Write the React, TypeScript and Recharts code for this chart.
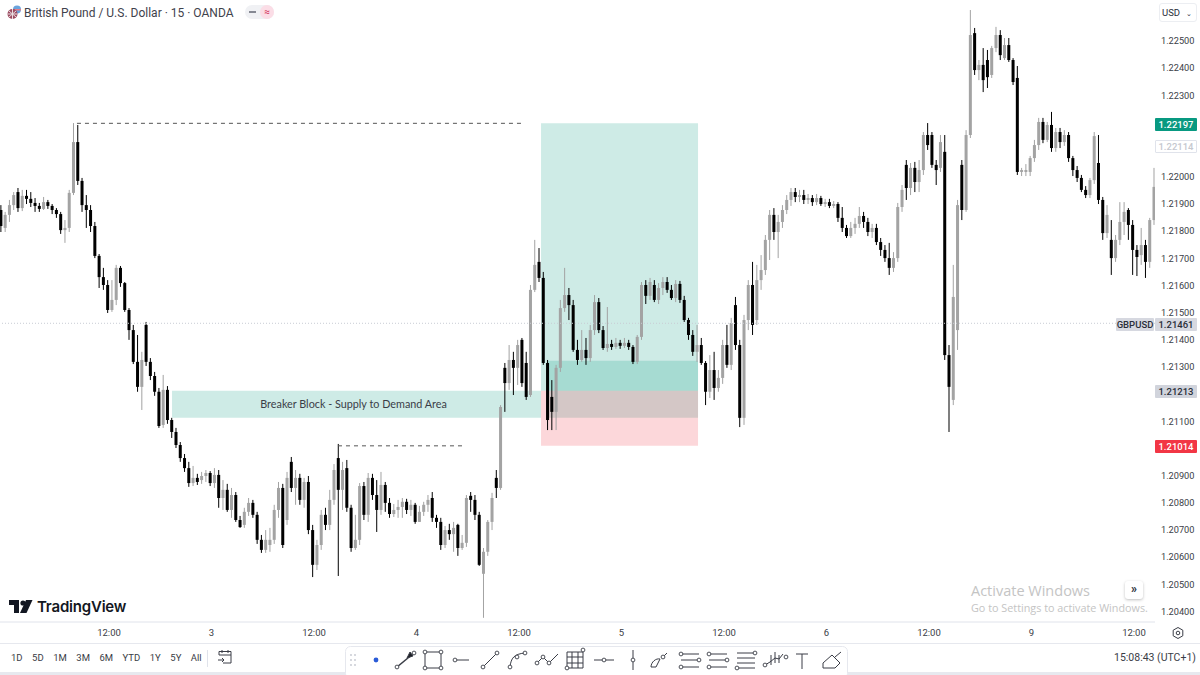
import { Bar, ComposedChart, ReferenceArea, ReferenceLine, XAxis, YAxis } from "recharts";

// every bar here spans two 15 minute candles of the original chart
const opens = [
  1.21878, 1.21812, 1.2186, 1.21896, 1.21944, 1.21885, 1.2193, 1.21919, 1.21904, 1.21893,
  1.21882, 1.21907, 1.21893, 1.21878, 1.21863, 1.21804, 1.21812, 1.21941, 1.22128, 1.21985,
  1.21896, 1.21878, 1.21819, 1.21709, 1.21631, 1.21602, 1.2151, 1.21547, 1.21665, 1.21609,
  1.2151, 1.21436, 1.21319, 1.21227, 1.21455, 1.21319, 1.21267, 1.21209, 1.21087, 1.21216,
  1.21105, 1.21061, 1.21013, 1.20965, 1.20928, 1.20873, 1.20892, 1.20884, 1.20899, 1.2091,
  1.20873, 1.20903, 1.20818, 1.20848, 1.20774, 1.20829, 1.20737, 1.20719, 1.20767, 1.208,
  1.20756, 1.20664, 1.20627, 1.20645, 1.20664, 1.20774, 1.20855, 1.20737, 1.20951, 1.20855,
  1.20892, 1.20811, 1.20877, 1.207, 1.20572, 1.20645, 1.20756, 1.20719, 1.20811, 1.20965,
  1.20848, 1.20928, 1.20782, 1.20634, 1.20664, 1.20862, 1.20756, 1.20892, 1.20829, 1.20774,
  1.20866, 1.208, 1.20759, 1.20774, 1.20785, 1.20804, 1.20774, 1.20793, 1.2073, 1.20767,
  1.20793, 1.20818, 1.20745, 1.2073, 1.20645, 1.207, 1.20685, 1.20719, 1.20634, 1.20653,
  1.20826, 1.20811, 1.20756, 1.20539, 1.2062, 1.2073, 1.20892, 1.20855, 1.21297, 1.21241,
  1.21326, 1.21297, 1.214, 1.21315, 1.21197, 1.21584, 1.21687, 1.21628, 1.21315, 1.2119,
  1.21135, 1.21297, 1.21517, 1.21565, 1.21528, 1.21363, 1.21326, 1.21363, 1.21333, 1.21436,
  1.21539, 1.21436, 1.2137, 1.21385, 1.21374, 1.21389, 1.21378, 1.21389, 1.21374, 1.21319,
  1.21411, 1.21602, 1.21562, 1.21602, 1.21547, 1.21591, 1.21613, 1.21584, 1.21554, 1.21606,
  1.21547, 1.21473, 1.21418, 1.21356, 1.21381, 1.21315, 1.21209, 1.21289, 1.21223, 1.2126,
  1.21381, 1.21308, 1.21528, 1.21381, 1.21113, 1.21473, 1.21602, 1.21473, 1.2162, 1.21657,
  1.21768, 1.2186, 1.21797, 1.21834, 1.21878, 1.21915, 1.21944, 1.21926, 1.21933, 1.21915,
  1.21922, 1.21907, 1.21922, 1.219, 1.21907, 1.21893, 1.219, 1.21849, 1.21812, 1.21782,
  1.21812, 1.21827, 1.21856, 1.21834, 1.21797, 1.21812, 1.2176, 1.21731, 1.21701, 1.21665,
  1.21701, 1.21889, 1.22044, 1.21959, 1.22033, 1.21981, 1.22025, 1.22154, 1.22154, 1.22044,
  1.22033, 1.22092, 1.21344, 1.21179, 1.21436, 1.22044, 1.21878, 1.22154, 1.22529, 1.22393,
  1.22412, 1.2243, 1.22375, 1.22474, 1.22522, 1.22437, 1.22485, 1.2243, 1.22364, 1.22018,
  1.22018, 1.22018, 1.22069, 1.22117, 1.22202, 1.22136, 1.22191, 1.22106, 1.22165, 1.22128,
  1.22154, 1.22069, 1.22025, 1.21996, 1.21952, 1.21933, 1.21988, 1.22051, 1.21915, 1.21793,
  1.21768, 1.21701, 1.21768, 1.21834, 1.21878, 1.21823, 1.21731, 1.21712, 1.21749, 1.21687,
  1.21841,
];

const closes = [
  1.21819, 1.2186, 1.21896, 1.21933, 1.21885, 1.2193, 1.21919, 1.21904, 1.21893, 1.21882,
  1.21907, 1.21893, 1.21878, 1.21863, 1.21804, 1.21812, 1.21941, 1.22128, 1.21985, 1.21896,
  1.21878, 1.21819, 1.21709, 1.21631, 1.21602, 1.2151, 1.21547, 1.21665, 1.21609, 1.2151,
  1.21436, 1.21319, 1.21227, 1.21326, 1.21319, 1.21267, 1.21209, 1.21083, 1.21216, 1.21105,
  1.21061, 1.21013, 1.20965, 1.20928, 1.20873, 1.20892, 1.20877, 1.20899, 1.2091, 1.20873,
  1.20903, 1.20818, 1.20848, 1.20774, 1.20829, 1.20737, 1.20711, 1.20767, 1.208, 1.20756,
  1.20664, 1.20627, 1.20664, 1.20664, 1.20774, 1.20855, 1.20645, 1.20892, 1.20855, 1.20892,
  1.20811, 1.20877, 1.207, 1.20572, 1.20645, 1.20756, 1.20719, 1.20811, 1.20921, 1.20848,
  1.20921, 1.20782, 1.20634, 1.20664, 1.20862, 1.20756, 1.20892, 1.20829, 1.20774, 1.20866,
  1.208, 1.20759, 1.20774, 1.20785, 1.20804, 1.20774, 1.20793, 1.2073, 1.20767, 1.20793,
  1.20811, 1.20745, 1.2073, 1.20645, 1.207, 1.20685, 1.20708, 1.20634, 1.20653, 1.20818,
  1.20811, 1.20756, 1.20572, 1.2062, 1.2073, 1.20818, 1.20855, 1.21153, 1.21241, 1.21326,
  1.21297, 1.21381, 1.21241, 1.2119, 1.21584, 1.21676, 1.21628, 1.21315, 1.21105, 1.21135,
  1.21297, 1.21517, 1.21565, 1.21528, 1.21363, 1.21326, 1.21363, 1.21333, 1.21436, 1.21539,
  1.21436, 1.2137, 1.21385, 1.21374, 1.21389, 1.21378, 1.21389, 1.21374, 1.21319, 1.21411,
  1.21602, 1.21562, 1.21613, 1.21547, 1.21591, 1.21613, 1.21584, 1.21554, 1.21606, 1.21547,
  1.21473, 1.21418, 1.21356, 1.21381, 1.21315, 1.21209, 1.21289, 1.21223, 1.2126, 1.21381,
  1.21308, 1.21462, 1.21381, 1.21113, 1.21473, 1.21602, 1.21455, 1.2162, 1.21657, 1.21768,
  1.2186, 1.21797, 1.21834, 1.21878, 1.21915, 1.21944, 1.21926, 1.21933, 1.21915, 1.21922,
  1.21907, 1.21922, 1.219, 1.21907, 1.21893, 1.219, 1.21849, 1.21812, 1.21782, 1.21812,
  1.21827, 1.21856, 1.21834, 1.21797, 1.21812, 1.2176, 1.21731, 1.21701, 1.21665, 1.21701,
  1.21889, 1.21952, 1.21959, 1.22033, 1.21981, 1.22025, 1.22154, 1.22117, 1.22044, 1.22025,
  1.22128, 1.21344, 1.21227, 1.21558, 1.21896, 1.21878, 1.22154, 1.22522, 1.22393, 1.22412,
  1.22356, 1.22367, 1.22474, 1.22522, 1.22448, 1.22485, 1.2243, 1.22349, 1.22018, 1.22025,
  1.22025, 1.22069, 1.22117, 1.22202, 1.22136, 1.22191, 1.22106, 1.22165, 1.22128, 1.22154,
  1.22069, 1.22025, 1.21996, 1.21952, 1.21933, 1.21988, 1.2215, 1.21915, 1.21793, 1.2186,
  1.21701, 1.21768, 1.21834, 1.21871, 1.21823, 1.21731, 1.21705, 1.21749, 1.21687, 1.21841,
  1.21963,
];

const highs = [
  1.21896, 1.21871, 1.21915, 1.21944, 1.21959, 1.21952, 1.21952, 1.21944, 1.21922, 1.21904,
  1.21926, 1.21915, 1.219, 1.21885, 1.21871, 1.21841, 1.21952, 1.22198, 1.22191, 1.21996,
  1.21933, 1.21896, 1.21834, 1.21716, 1.21665, 1.2162, 1.2162, 1.21676, 1.21672, 1.21613,
  1.21517, 1.21455, 1.21418, 1.21356, 1.21466, 1.21333, 1.21282, 1.21223, 1.21271, 1.2123,
  1.21113, 1.21076, 1.21024, 1.2098, 1.20951, 1.20936, 1.20907, 1.20914, 1.20921, 1.20917,
  1.20928, 1.20921, 1.20884, 1.2087, 1.20855, 1.2084, 1.20752, 1.20782, 1.20818, 1.20811,
  1.20767, 1.20682, 1.207, 1.20708, 1.20793, 1.20877, 1.2087, 1.20914, 1.20969, 1.20921,
  1.20907, 1.20892, 1.20899, 1.20719, 1.20664, 1.20774, 1.20782, 1.20848, 1.20943, 1.21017,
  1.20951, 1.20958, 1.20793, 1.20756, 1.20873, 1.20877, 1.2091, 1.20907, 1.20884, 1.20914,
  1.20877, 1.20818, 1.20796, 1.20811, 1.20818, 1.20815, 1.20811, 1.208, 1.20789, 1.20804,
  1.20829, 1.2084, 1.20756, 1.20745, 1.20715, 1.20723, 1.2073, 1.20723, 1.20682, 1.20829,
  1.2084, 1.20829, 1.20767, 1.20634, 1.20737, 1.20837, 1.20921, 1.2116, 1.21315, 1.21381,
  1.21356, 1.214, 1.21407, 1.21356, 1.21602, 1.21768, 1.21738, 1.2165, 1.21326, 1.21252,
  1.21308, 1.21547, 1.21665, 1.21591, 1.21547, 1.214, 1.21436, 1.21407, 1.21455, 1.21565,
  1.21554, 1.21451, 1.21521, 1.214, 1.21407, 1.214, 1.21407, 1.214, 1.21381, 1.21418,
  1.21613, 1.2162, 1.21628, 1.2162, 1.21609, 1.21631, 1.21631, 1.21602, 1.2162, 1.21617,
  1.21562, 1.21481, 1.21436, 1.21455, 1.21407, 1.21322, 1.21344, 1.21356, 1.21289, 1.214,
  1.21455, 1.21481, 1.21558, 1.214, 1.21492, 1.2162, 1.21687, 1.21676, 1.21712, 1.21786,
  1.21878, 1.21885, 1.2186, 1.21896, 1.21933, 1.21959, 1.21959, 1.21952, 1.21952, 1.21937,
  1.21933, 1.21937, 1.2193, 1.21919, 1.21919, 1.21911, 1.21907, 1.21889, 1.21823, 1.21834,
  1.21849, 1.21889, 1.21871, 1.21849, 1.21827, 1.21827, 1.21775, 1.21749, 1.21757, 1.21723,
  1.21904, 1.2197, 1.22062, 1.22051, 1.22055, 1.22062, 1.22165, 1.22198, 1.22165, 1.22062,
  1.22154, 1.22154, 1.21381, 1.21676, 1.21915, 1.22062, 1.22172, 1.22614, 1.22548, 1.2243,
  1.22474, 1.22467, 1.22482, 1.22552, 1.2254, 1.22511, 1.22511, 1.22437, 1.22408, 1.22033,
  1.22047, 1.22077, 1.22136, 1.22217, 1.22217, 1.22202, 1.22239, 1.2218, 1.2218, 1.22172,
  1.22165, 1.22077, 1.2204, 1.22007, 1.21966, 1.21996, 1.22165, 1.22154, 1.21926, 1.21896,
  1.21841, 1.21786, 1.21907, 1.21907, 1.21885, 1.21841, 1.21749, 1.21812, 1.21768, 1.21849,
  1.22033,
];

const lows = [
  1.21797, 1.21797, 1.21834, 1.21878, 1.21871, 1.21874, 1.219, 1.21889, 1.21871, 1.21871,
  1.21878, 1.21882, 1.21863, 1.21849, 1.2179, 1.21757, 1.21797, 1.21933, 1.2197, 1.21871,
  1.21812, 1.21797, 1.21701, 1.21591, 1.21584, 1.21499, 1.21503, 1.21528, 1.21595, 1.21503,
  1.214, 1.21311, 1.21209, 1.21142, 1.21304, 1.21252, 1.21194, 1.21076, 1.21076, 1.21091,
  1.21039, 1.21002, 1.20951, 1.20914, 1.20859, 1.20862, 1.20866, 1.2087, 1.20877, 1.20862,
  1.20855, 1.20782, 1.20774, 1.20767, 1.20745, 1.2073, 1.20708, 1.20708, 1.20752, 1.20745,
  1.20649, 1.20616, 1.20616, 1.2062, 1.20649, 1.20745, 1.20634, 1.20719, 1.2084, 1.20793,
  1.20793, 1.20782, 1.20685, 1.20527, 1.20553, 1.20627, 1.207, 1.207, 1.20793, 1.20531,
  1.20774, 1.20767, 1.2062, 1.20627, 1.20645, 1.20737, 1.2073, 1.20811, 1.20693, 1.20756,
  1.20767, 1.20745, 1.20748, 1.20745, 1.20745, 1.20759, 1.20752, 1.20723, 1.2073, 1.20752,
  1.20767, 1.2073, 1.20708, 1.20627, 1.20634, 1.20664, 1.2062, 1.20605, 1.20627, 1.20638,
  1.20767, 1.20737, 1.20568, 1.20377, 1.20605, 1.207, 1.20818, 1.20848, 1.21135, 1.21216,
  1.21197, 1.21234, 1.21227, 1.21179, 1.2119, 1.21576, 1.21613, 1.21308, 1.21068, 1.21068,
  1.21068, 1.21282, 1.21503, 1.21473, 1.21356, 1.21308, 1.21319, 1.21308, 1.21319, 1.21418,
  1.21425, 1.21363, 1.21356, 1.21363, 1.21367, 1.21367, 1.2137, 1.21363, 1.21311, 1.21311,
  1.214, 1.21532, 1.21547, 1.21539, 1.21532, 1.21565, 1.21573, 1.21547, 1.21539, 1.21536,
  1.21466, 1.214, 1.21341, 1.21319, 1.21308, 1.2116, 1.21186, 1.21179, 1.21209, 1.21238,
  1.21297, 1.21289, 1.21363, 1.21079, 1.21087, 1.21436, 1.21418, 1.21455, 1.21584, 1.21639,
  1.21694, 1.21768, 1.21701, 1.21812, 1.21863, 1.21893, 1.21907, 1.21907, 1.219, 1.219,
  1.21893, 1.21896, 1.21893, 1.21889, 1.21885, 1.21885, 1.21834, 1.21797, 1.21775, 1.21775,
  1.2179, 1.21812, 1.21812, 1.21782, 1.21775, 1.21749, 1.21709, 1.21687, 1.21639, 1.2165,
  1.21687, 1.21871, 1.21915, 1.21933, 1.21944, 1.21944, 1.22007, 1.22099, 1.22033, 1.2197,
  1.22018, 1.21326, 1.21061, 1.2116, 1.21363, 1.21841, 1.21871, 1.22143, 1.22375, 1.22356,
  1.22312, 1.22327, 1.22364, 1.22459, 1.2243, 1.2243, 1.22423, 1.22338, 1.22007, 1.22003,
  1.22003, 1.22003, 1.22055, 1.22099, 1.22124, 1.22128, 1.22092, 1.22092, 1.22106, 1.22114,
  1.22055, 1.22003, 1.21981, 1.21944, 1.21922, 1.21922, 1.21974, 1.219, 1.21768, 1.21775,
  1.21639, 1.21687, 1.21749, 1.21786, 1.21768, 1.21639, 1.21635, 1.21676, 1.21628, 1.21665,
  1.21823,
];

// 1.21, 1.212, 1.221 and 1.222 sit behind the coloured price tags
const priceTicks = [
  1.204, 1.205, 1.206, 1.207, 1.208, 1.209, 1.211, 1.213, 1.214,
  1.215, 1.216, 1.217, 1.218, 1.219, 1.22, 1.223, 1.224, 1.225,
];
const timeTicks = [12, 24, 36, 48, 60, 72, 84, 96, 108, 120, 132];
const timeLabels = ["12:00", "3", "12:00", "4", "12:00", "5", "12:00", "6", "12:00", "9", "12:00"];
const rangeButtons = ["1D", "5D", "1M", "3M", "6M", "YTD", "1Y", "5Y", "All"];

const LAST_PRICE = 1.21461;
const TARGET = 1.22197;
const ENTRY = 1.21213;
const STOP = 1.2101;
const BLOCK_LOW = 1.21113;
const RETEST_HIGH = 1.21323;

const FONT = "Roboto, sans-serif";
const bars = closes.map((close, i) => ({
  hour: i * 0.5 - 0.7,
  open: opens[i],
  close,
  high: highs[i],
  low: lows[i],
  range: [lows[i], highs[i]],
}));

function Candle(props: any) {
  const { x, y, width, height, payload } = props;
  const up = payload.close >= payload.open;
  const color = up ? "#a3a3a3" : "#000000";
  const perUnit = height / (payload.high - payload.low);
  const top = y + (payload.high - Math.max(payload.open, payload.close)) * perUnit;
  const bodyHeight = Math.max(Math.abs(payload.open - payload.close) * perUnit, 1);
  return (
    <g>
      <rect x={x + width / 2 - 0.5} y={y} width={1} height={height} fill={color} />
      <rect x={x} y={top} width={width} height={bodyHeight} fill={color} />
    </g>
  );
}

function PriceTag({ top, left = 1155, width = 42, bg, color, border, children }: any) {
  return (
    <div
      style={{
        position: "absolute",
        top,
        left,
        width,
        height: 13,
        background: bg,
        color,
        border: border ? `1px solid ${border}` : undefined,
        boxSizing: "border-box",
        fontSize: 9.5,
        fontWeight: 500,
        lineHeight: border ? "11px" : "13px",
        textAlign: "center",
        borderRadius: 1,
      }}
    >
      {children}
    </div>
  );
}

function Flag() {
  return (
    <svg style={{ position: "absolute", left: 6, top: 4 }} width={16} height={16}>
      <circle cx={11} cy={5.5} r={4} fill="#6aa3dc" />
      <rect x={8} y={5} width={7} height={1.5} fill="#e57a86" />
      <circle cx={6.5} cy={10} r={5} fill="#9c4a60" />
      <path d="M2 10h9M6.5 5v10M3 7l7 6M10 7l-7 6" stroke="#e8dde0" strokeWidth={1} />
    </svg>
  );
}

function Logo() {
  return (
    <svg style={{ position: "absolute", left: 9, top: 600 }} width={24} height={13}>
      <path d="M0 0h10v13H5V5H0z" fill="#131722" />
      <circle cx={14} cy={3} r={2.6} fill="#131722" />
      <path d="M17 0h6.5L17.5 13H11z" fill="#131722" />
    </svg>
  );
}

const iconLine = { stroke: "#3a3d46", strokeWidth: 1, fill: "none" };
const Dot = ({ x, y }: { x: number; y: number }) => (
  <circle cx={x} cy={y} r={1.9} fill="#ffffff" stroke="#3a3d46" strokeWidth={0.9} />
);

// drawing tools palette along the bottom
function ToolBar() {
  return (
    <svg style={{ position: "absolute", left: 345, top: 646 }} width={503} height={29}>
      <rect x={0.5} y={0.5} width={502} height={32} rx={5} fill="#ffffff" stroke="#e6e8ee" />
      {[6, 10].map((x) => [9, 14, 19].map((y) => <circle key={`${x}${y}`} cx={x} cy={y} r={0.9} fill="#c4c7cf" />))}
      <circle cx={31} cy={14} r={2.4} fill="#2a5bd7" />
      <g {...iconLine}>
        <path d="M52 21L69 7" strokeWidth={1.6} />
        <path d="M65 6l3 4-6 2z" fill="#1c1f26" />
        <rect x={80} y={6} width={16} height={16} />
        <path d="M110 14h14M138 21l14-14M165 21c1-9 4-13 15-14M192 17l6-6 6 6 9-9M222 6h16v16h-16zM227 6v16M233 6v16M222 11h16M222 17h16M249 14h20M288 4v20" />
        <path d="M306 21c0-5 5-9 9-8l-4 8zM318 11l4-4M336 8h18M336 14h18M336 21h18M364 8h18M364 14h18M364 21h18M392 7h18M392 12h18M392 17h18M392 22h18M420 19l5-3 5-4 4 1 4-5" />
        <path d="M426 9v10M430 6v11M434 9v8M451 8h12M457 8v15M478 22h12l5-5-8-8-9 8zM490 11l6-5" />
      </g>
      {[
        [52, 21], [69, 7], [80, 6], [96, 6], [80, 22], [96, 22], [110, 14], [138, 21], [152, 7],
        [165, 21], [172, 11], [180, 7], [192, 17], [198, 11], [204, 17], [222, 22], [238, 4], [259, 14], [288, 14],
        [318, 11], [336, 8], [354, 14], [336, 21], [364, 8], [382, 14], [364, 21], [392, 22], [410, 7], [420, 19], [441, 11],
      ].map(([x, y]) => <Dot key={`${x}-${y}`} x={x} y={y} />)}
    </svg>
  );
}

export default function App() {
  return (
    <div style={{ position: "absolute", left: 0, top: 0, width: 1200, height: 675, background: "#fff", overflow: "hidden", fontFamily: FONT, color: "#2a2e39" }}>
      <ComposedChart width={1200} height={645} data={bars} margin={{ top: 0, right: 0, bottom: 0, left: 0 }}>
        <XAxis
          dataKey="hour"
          type="number"
          domain={[-0.761, 134.46]}
          allowDataOverflow
          ticks={timeTicks}
          interval={0}
          height={23}
          tickLine={false}
          axisLine={{ stroke: "#e0e3eb" }}
          tickMargin={1}
          tick={{ fontSize: 9.5, fill: "#3a3d46", fontFamily: FONT }}
          tickFormatter={(_: number, i: number) => timeLabels[i]}
        />
        <YAxis
          orientation="right"
          width={45}
          type="number"
          domain={[1.203616, 1.226509]}
          allowDataOverflow
          ticks={priceTicks}
          interval={0}
          tickSize={0}
          tickMargin={6}
          axisLine={false}
          tick={{ fontSize: 9.2, fill: "#3a3d46", fontFamily: FONT }}
          tickFormatter={(v: number) => v.toFixed(5)}
        />
        <ReferenceArea
          x1={19.38}
          x2={62.58}
          y1={BLOCK_LOW}
          y2={ENTRY}
          fill="#089981"
          fillOpacity={0.2}
          stroke="none"
          label={{ value: "Breaker Block - Supply to Demand Area", position: "center", fontSize: 10.8, fill: "#3a3d46", fontFamily: "Lato, sans-serif", dx: -3 }}
        />
        <ReferenceArea x1={62.58} x2={80.96} y1={ENTRY} y2={TARGET} fill="#089981" fillOpacity={0.2} stroke="none" />
        <ReferenceArea x1={63.28} x2={80.96} y1={BLOCK_LOW} y2={RETEST_HIGH} fill="#089981" fillOpacity={0.2} stroke="none" />
        <ReferenceArea x1={62.58} x2={80.96} y1={STOP} y2={ENTRY} fill="#f23645" fillOpacity={0.2} stroke="none" />
        <ReferenceLine y={LAST_PRICE} stroke="#c9ccd4" strokeDasharray="1 2" />
        <ReferenceLine segment={[{ x: 8.25, y: TARGET }, { x: 60.23, y: TARGET }]} stroke="#555" strokeDasharray="4 4" />
        <ReferenceLine segment={[{ x: 38.81, y: STOP }, { x: 53.68, y: STOP }]} stroke="#555" strokeDasharray="4 4" />
        <Bar dataKey="range" barSize={3} shape={<Candle />} isAnimationActive={false} />
      </ComposedChart>

      <Flag />
      <div style={{ position: "absolute", left: 24, top: 6, fontSize: 12, color: "#3f424c", whiteSpace: "nowrap" }}>
        British Pound / U.S. Dollar · 15 · OANDA
      </div>
      <div style={{ position: "absolute", left: 245, top: 5, width: 29, height: 14, borderRadius: 7, background: "#f0f1f4" }}>
        <div style={{ position: "absolute", left: 15, top: 0, width: 14, height: 14, borderRadius: 7, background: "#fbdde6", color: "#d0264f", fontSize: 10, lineHeight: "13px", textAlign: "center" }}>≈</div>
        <div style={{ position: "absolute", left: 4, top: 6, width: 7, height: 2, background: "#868993" }} />
      </div>

      <div style={{ position: "absolute", left: 1159, top: 3, width: 38, height: 19, border: "1px solid #eceef2", borderRadius: 3, boxSizing: "border-box", fontSize: 9.5, lineHeight: "17px", paddingLeft: 2 }}>
        USD <span style={{ fontSize: 7, marginLeft: 4 }}>⌄</span>
      </div>

      <PriceTag top={118} bg="#089981" color="#fff">1.22197</PriceTag>
      <PriceTag top={140} bg="#fff" color="#c5c8cf" border="#e0e3eb">1.22114</PriceTag>
      <PriceTag top={318} left={1116} width={38} bg="#d6d8e0" color="#2a2e39">GBPUSD</PriceTag>
      <PriceTag top={318} bg="#d6d8e0" color="#2a2e39">1.21461</PriceTag>
      <PriceTag top={385} bg="#d1d4dc" color="#2a2e39">1.21213</PriceTag>
      <PriceTag top={440} bg="#f23645" color="#fff">1.21014</PriceTag>

      <Logo />
      <div style={{ position: "absolute", left: 37, top: 597, fontSize: 15, fontWeight: 600, color: "#131722", letterSpacing: -0.2, fontFamily: "Inter, sans-serif" }}>TradingView</div>

      <div style={{ position: "absolute", left: 971, top: 581, fontSize: 14.5, color: "#c4c4c4", fontFamily: "'Open Sans', sans-serif", whiteSpace: "nowrap" }}>Activate Windows</div>
      <div style={{ position: "absolute", left: 971, top: 600, fontSize: 10.8, color: "#c4c4c4", fontFamily: "'Open Sans', sans-serif", whiteSpace: "nowrap" }}>Go to Settings to activate Windows.</div>
      <div style={{ position: "absolute", left: 1125, top: 581, width: 18, height: 18, background: "#fff", borderRadius: 3, boxShadow: "0 1px 3px rgba(0,0,0,.25)", textAlign: "center", fontSize: 12, lineHeight: "16px", fontWeight: 700 }}>»</div>

      <svg style={{ position: "absolute", left: 1171, top: 626 }} width={14} height={14}>
        <path d="M7 1.5L11.8 4.2V9.8L7 12.5L2.2 9.8V4.2Z" fill="none" stroke="#3a3d46" />
        <circle cx={7} cy={7} r={1.8} fill="none" stroke="#3a3d46" />
      </svg>

      <div style={{ position: "absolute", left: 0, top: 643, width: 1200, height: 1, background: "#e6e8ee" }} />
      <div style={{ position: "absolute", left: 0, top: 672, width: 1200, height: 3, background: "#e7e9ef" }} />
      <div style={{ position: "absolute", left: 11, top: 652, display: "flex", gap: 9.5, fontSize: 9.5, color: "#3a3d46", whiteSpace: "nowrap" }}>
        {rangeButtons.map((label) => <span key={label}>{label}</span>)}
      </div>
      <div style={{ position: "absolute", left: 207, top: 650, width: 1, height: 17, background: "#e0e3eb" }} />
      <svg style={{ position: "absolute", left: 217, top: 649 }} width={16} height={16}>
        <path d="M2 6V2.5h12V14H6M2 6h12M5 1v3M11 1v3M1 11h6M5 9l2 2-2 2" fill="none" stroke="#3a3d46" />
      </svg>
      <ToolBar />
      <div style={{ position: "absolute", left: 1114, top: 651, fontSize: 10.5, color: "#3a3d46", whiteSpace: "nowrap" }}>15:08:43 (UTC+1)</div>
    </div>
  );
}
